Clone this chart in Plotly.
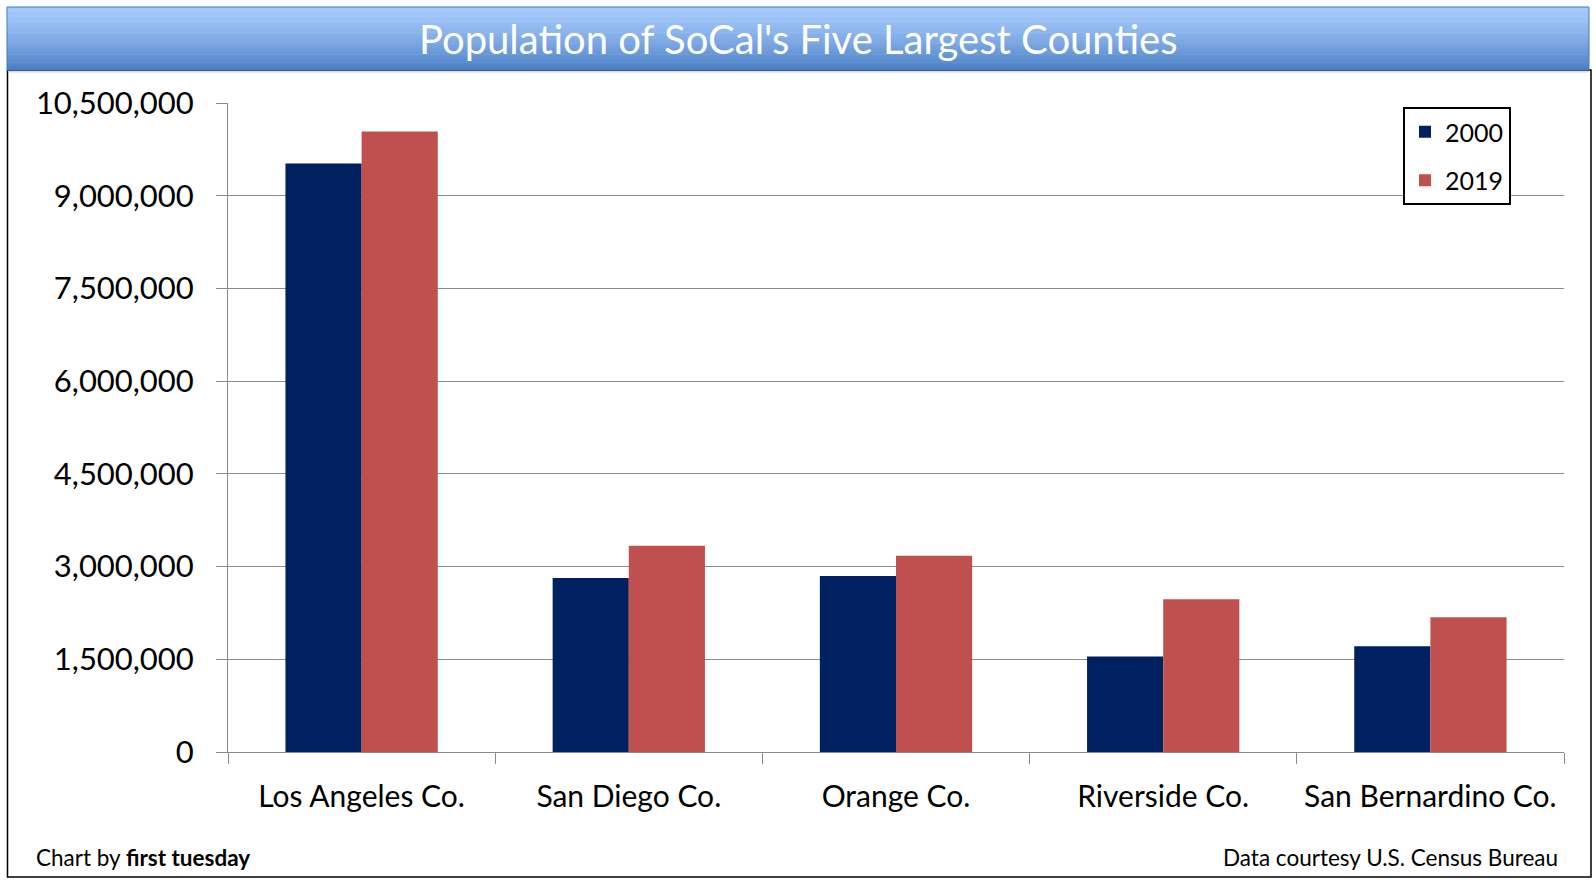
import plotly.graph_objects as go

counties = ["Los Angeles Co.", "San Diego Co.", "Orange Co.", "Riverside Co.", "San Bernardino Co."]
pop_2000 = [9519338, 2813833, 2846289, 1545387, 1709434]
pop_2019 = [10039107, 3338330, 3175692, 2470546, 2180085]
tick_vals = [0, 1500000, 3000000, 4500000, 6000000, 7500000, 9000000, 10500000]
tick_text = ["0", "1,500,000", "3,000,000", "4,500,000", "6,000,000", "7,500,000", "9,000,000", "10,500,000"]

W, H = 1596, 882
L, R, T, B = 228, 32, 103, 130
PW, PH = W - L - R, H - T - B
FONT = "Lato, Calibri, 'Open Sans', sans-serif"

fig = go.Figure()
fig.add_trace(go.Bar(name="2000", x=counties, y=pop_2000, marker_color="#002060",
                     marker_line_width=0, legendgroup="a"))
fig.add_trace(go.Bar(name="2019", x=counties, y=pop_2019, marker_color="#C0504D",
                     marker_line_width=0, legendgroup="b"))

def px(x):
    return (x - L) / PW

def py(y):
    return 1 - (y - T) / PH

shapes = []
# title bar gradient
top_c = (0xA3, 0xC8, 0xFB)
bot_c = (0x4A, 0x7F, 0xC4)
y0, y1 = 7, 70
n = 40
for i in range(n):
    t = i / (n - 1)
    t2 = t ** 1.4
    c = tuple(int(round(top_c[k] + (bot_c[k] - top_c[k]) * t2)) for k in range(3))
    ya = y0 + (y1 - y0) * i / n
    yb = y0 + (y1 - y0) * (i + 1) / n + 0.6
    shapes.append(dict(type="rect", xref="paper", yref="paper",
                       x0=px(7), x1=px(1589), y0=py(ya), y1=py(yb),
                       fillcolor="rgb(%d,%d,%d)" % c, line_width=0, layer="above"))
# shadow below title
for i, a in enumerate([0.25, 0.15, 0.08]):
    shapes.append(dict(type="rect", xref="paper", yref="paper",
                       x0=px(9), x1=px(1589), y0=py(70 + i), y1=py(71 + i),
                       fillcolor="rgba(0,0,0,%s)" % a, line_width=0, layer="above"))
shapes.append(dict(type="rect", xref="paper", yref="paper",
                   x0=px(7), x1=px(1589), y0=py(7), y1=py(70),
                   fillcolor="rgba(0,0,0,0)", line=dict(color="#4A78B8", width=1), layer="above"))
# outer border
shapes.append(dict(type="rect", xref="paper", yref="paper",
                   x0=px(7.5), x1=px(1591), y0=py(70), y1=py(877),
                   fillcolor="rgba(0,0,0,0)", line=dict(color="black", width=1.5), layer="below"))

annotations = [
    dict(text="Population of SoCal's Five Largest Counties", xref="paper", yref="paper",
         x=px(798), y=py(39), xanchor="center", yanchor="middle", showarrow=False,
         font=dict(family=FONT, size=40, color="white")),
    dict(text="Chart by <b>first tuesday</b>", xref="paper", yref="paper",
         x=px(34), y=py(857), xanchor="left", yanchor="middle", showarrow=False,
         font=dict(family=FONT, size=22.5, color="black")),
    dict(text="Data courtesy U.S. Census Bureau", xref="paper", yref="paper",
         x=px(1560), y=py(857), xanchor="right", yanchor="middle", showarrow=False,
         font=dict(family=FONT, size=22.5, color="black")),
]

fig.update_layout(
    width=W, height=H,
    margin=dict(l=L, r=R, t=T, b=B, pad=0),
    paper_bgcolor="white", plot_bgcolor="white",
    barmode="group", bargap=0.43, bargroupgap=0,
    font=dict(family=FONT, color="black"),
    shapes=shapes, annotations=annotations,
    legend=dict(x=px(1403), y=py(107), xanchor="left", yanchor="top",
                xref="paper", yref="paper",
                bordercolor="black", borderwidth=2, bgcolor="white",
                font=dict(family=FONT, size=25, color="black"),
                tracegroupgap=13, itemwidth=30, traceorder="grouped"),
    showlegend=True,
)
fig.update_yaxes(range=[0, 10500000], tickvals=tick_vals, ticktext=tick_text,
                 showgrid=True, gridcolor="#8C8C8C", gridwidth=1,
                 showline=True, linecolor="#8C8C8C", linewidth=1,
                 ticks="outside", ticklen=11, tickcolor="#8C8C8C",
                 tickfont=dict(family=FONT, size=31, color="black"),
                 ticklabelstandoff=16, zeroline=False, fixedrange=True)
fig.update_xaxes(showline=True, linecolor="#8C8C8C", linewidth=1,
                 ticks="outside", ticklen=11, tickcolor="#8C8C8C", tickson="boundaries",
                 tickfont=dict(family=FONT, size=30, color="black"),
                 ticklabelstandoff=18, showgrid=False, fixedrange=True)

fig.write_html("out.html", config={"displayModeBar": False})
